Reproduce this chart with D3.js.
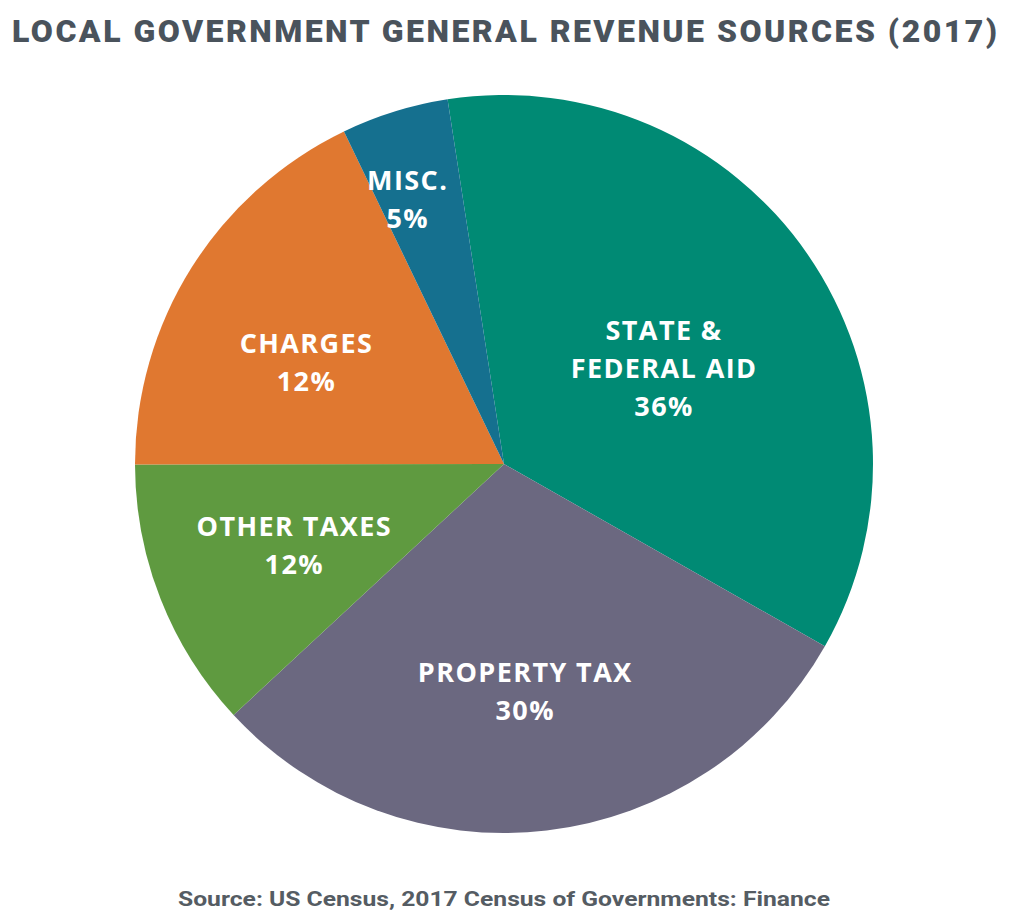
<!DOCTYPE html>
<html>
<head>
<meta charset="utf-8">
<script src="https://cdn.jsdelivr.net/npm/d3@7"></script>
<style>
  body { margin: 0; background: #fff; }
  svg text { font-family: Roboto, "Open Sans", sans-serif; }
</style>
</head>
<body>
<svg id="chart"></svg>
<script>
// slice shares as drawn, clockwise from just left of top
const categories = ['STATE & FEDERAL AID', 'PROPERTY TAX', 'OTHER TAXES', 'CHARGES', 'MISC.'];
const values = [35.7, 29.9, 11.9, 17.9, 4.7];
// label texts as printed on the chart
const labelLines = [['STATE &', 'FEDERAL AID'], ['PROPERTY TAX'], ['OTHER TAXES'], ['CHARGES'], ['MISC.']];
const pctLabels = ['36%', '30%', '12%', '12%', '5%'];
const colors = ['#008a74', '#6b6880', '#5f9a40', '#e07830', '#15708f'];

const title = 'LOCAL GOVERNMENT GENERAL REVENUE SOURCES (2017)';
const source = 'Source: US Census, 2017 Census of Governments: Finance';

const width = 1024, height = 918;
const cx = 504, cy = 464, radius = 369;

const svg = d3.select('#chart')
    .attr('width', width)
    .attr('height', height);

// title
svg.append('text')
    .attr('x', 12)
    .attr('y', 42)
    .attr('textLength', 985)
    .attr('lengthAdjust', 'spacing')
    .style('font-size', '32px')
    .style('font-weight', 900)
    .attr('fill', '#4a535c')
    .text(title);

const pie = d3.pie()
    .sort(null)
    .value(d => d)
    .startAngle(-8.8 * Math.PI / 180)
    .endAngle((360 - 8.8) * Math.PI / 180);

const arc = d3.arc()
    .innerRadius(0)
    .outerRadius(radius);

const arcs = pie(values);

const g = svg.append('g')
    .attr('transform', `translate(${cx},${cy})`);

g.selectAll('.slice')
    .data(arcs)
    .join('path')
    .attr('class', 'slice')
    .attr('d', arc)
    .attr('fill', (d, i) => colors[i]);

// label placement: share of radius and small angle nudge (degrees) from slice middle
const labelR = [0.506, 0.618, 0.609, 0.603, 0.765];
const labelNudge = [3.6, 1.3, 0.4, -4.7, -2.7];

const labels = g.selectAll('.label')
    .data(arcs)
    .join('text')
    .attr('class', 'label')
    .attr('text-anchor', 'middle')
    .attr('fill', '#fff')
    .style('font-family', '"Open Sans", Roboto, sans-serif')
    .style('font-size', '27px')
    .style('font-weight', 700)
    .style('letter-spacing', '1.4px')
    .attr('transform', (d, i) => {
        const a = (d.startAngle + d.endAngle) / 2 + labelNudge[i] * Math.PI / 180;
        const r = labelR[i] * radius;
        return `translate(${r * Math.sin(a)},${-r * Math.cos(a)})`;
    });

labels.each(function(d, i) {
    const lines = labelLines[i].concat(pctLabels[i]);
    const lh = 38;
    const y0 = -((lines.length - 1) * lh) / 2 + 10;
    d3.select(this).selectAll('tspan')
        .data(lines)
        .join('tspan')
        .attr('x', 0)
        .attr('y', (t, j) => y0 + j * lh)
        .text(t => t);
});

// source note
svg.append('text')
    .attr('x', 504)
    .attr('y', 906)
    .attr('text-anchor', 'middle')
    .attr('textLength', 652)
    .attr('lengthAdjust', 'spacingAndGlyphs')
    .style('font-size', '21px')
    .style('font-weight', 700)
    .attr('fill', '#555c63')
    .text(source);
</script>
</body>
</html>
